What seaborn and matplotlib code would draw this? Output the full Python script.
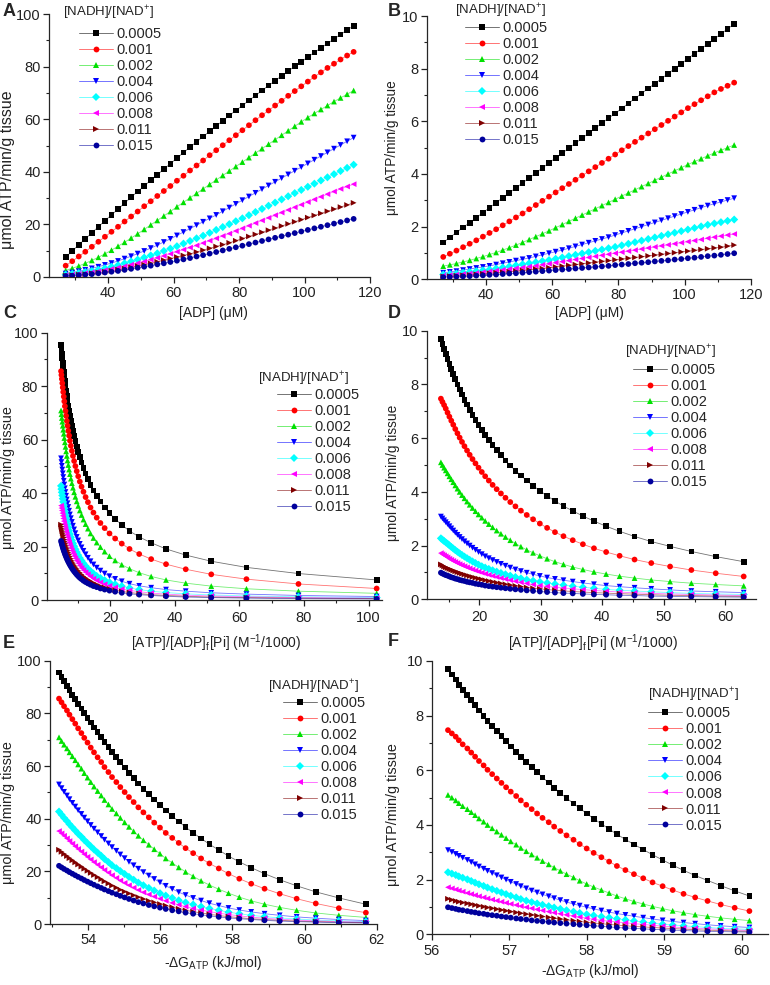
import pandas as pd
import matplotlib
matplotlib.use("Agg")
import matplotlib.pyplot as plt
from matplotlib.lines import Line2D
from matplotlib.colors import to_rgba
import seaborn as sns

# NADH/NAD+ ratios, one curve each
ratios = ["0.0005", "0.001", "0.002", "0.004", "0.006", "0.008", "0.011", "0.015"]
colors = ["#000000", "#ff0000", "#00e000", "#0000ff", "#00ffff", "#ff00ff", "#800000", "#00009c"]
marker_list = ["s", "o", "^", "v", "D", "<", ">", "o"]

# [ADP] (uM) for every point of every curve
adp = [27, 29, 31, 33, 35, 37, 39, 41, 43, 45, 47, 49, 51, 53, 55, 57, 59, 61, 63, 65, 67, 69, 71,
       73, 75, 77, 79, 81, 83, 85, 87, 89, 91, 93, 95, 97, 99, 101, 103, 105, 107, 109, 111, 113, 115]

# [ATP]/[ADP]f[Pi] (M-1/1000) at the same points, panel C and panel D
ratio_c = [102.5, 78.3, 62.2, 51.3, 43.4, 37.3, 32.7, 29.0, 26.0, 23.6, 21.55, 19.8, 18.3, 16.99, 15.84,
           14.83, 13.93, 13.12, 12.40, 11.74, 11.15, 10.61, 10.11, 9.66, 9.24, 8.85, 8.49, 8.16, 7.85,
           7.56, 7.30, 7.05, 6.81, 6.59, 6.37, 6.18, 5.99, 5.81, 5.65, 5.48, 5.33, 5.19, 5.05, 4.92, 4.80]
ratio_d = [63.0, 58.45, 54.49, 51.03, 47.97, 45.25, 42.82, 40.63, 38.65, 36.85, 35.20, 33.69, 32.31,
           31.03, 29.85, 28.75, 27.72, 26.77, 25.88, 25.04, 24.26, 23.52, 22.83, 22.17, 21.55, 20.96,
           20.41, 19.88, 19.38, 18.90, 18.44, 18.01, 17.59, 17.19, 16.81, 16.45, 16.10, 15.77, 15.45,
           15.14, 14.84, 14.55, 14.28, 14.01, 13.76]

# -dG_ATP (kJ/mol) at the same points, panel E and panel F
dg_e = [61.70, 60.95, 60.31, 59.78, 59.31, 58.89, 58.52, 58.19, 57.89, 57.62, 57.36, 57.13, 56.91,
        56.70, 56.51, 56.33, 56.15, 55.99, 55.83, 55.68, 55.53, 55.39, 55.26, 55.13, 55.01, 54.89,
        54.78, 54.66, 54.56, 54.45, 54.36, 54.26, 54.16, 54.07, 53.98, 53.89, 53.81, 53.72, 53.64,
        53.56, 53.48, 53.41, 53.33, 53.26, 53.19]
dg_f = [60.10, 59.91, 59.73, 59.56, 59.40, 59.25, 59.11, 58.98, 58.85, 58.73, 58.61, 58.50, 58.39,
        58.29, 58.19, 58.09, 58.00, 57.91, 57.83, 57.74, 57.66, 57.58, 57.51, 57.43, 57.36, 57.29,
        57.22, 57.15, 57.09, 57.02, 56.96, 56.90, 56.84, 56.78, 56.72, 56.67, 56.61, 56.56, 56.51,
        56.46, 56.40, 56.35, 56.31, 56.26, 56.21]

# rates (umol ATP/min/g tissue), left column (A, C, E)
a_r0005 = [7.5, 9.9, 12.2, 14.5, 16.8, 19.1, 21.4, 23.6, 25.8, 28.1, 30.3, 32.5, 34.6, 36.8, 38.9,
           41.0, 43.1, 45.2, 47.3, 49.4, 51.4, 53.4, 55.4, 57.4, 59.4, 61.4, 63.3, 65.2, 67.1, 69.0,
           70.9, 72.8, 74.6, 76.5, 78.3, 80.1, 81.8, 83.6, 85.4, 87.1, 88.8, 90.5, 92.2, 93.9, 95.5]
a_r001 = [4.3, 6.0, 7.8, 9.6, 11.5, 13.4, 15.3, 17.2, 19.1, 21.1, 23.0, 24.9, 26.9, 28.8, 30.8,
          32.7, 34.6, 36.6, 38.5, 40.5, 42.4, 44.3, 46.3, 48.2, 50.1, 52.0, 53.9, 55.8, 57.7, 59.6,
          61.5, 63.3, 65.2, 67.0, 68.9, 70.7, 72.5, 74.3, 76.1, 77.8, 79.5, 81.1, 82.7, 84.2, 85.6]
a_r002 = [2.5, 3.3, 4.2, 5.2, 6.3, 7.5, 8.8, 10.2, 11.7, 13.2, 14.8, 16.4, 18.1, 19.8, 21.5,
          23.2, 24.9, 26.7, 28.4, 30.1, 31.8, 33.5, 35.2, 36.9, 38.6, 40.3, 42.0, 43.7, 45.4, 47.1,
          48.8, 50.5, 52.2, 53.9, 55.6, 57.3, 59.0, 60.6, 62.2, 63.7, 65.2, 66.7, 68.1, 69.5, 70.9]
a_r004 = [1.3, 1.7, 2.2, 2.7, 3.3, 3.9, 4.6, 5.3, 6.1, 7.0, 7.9, 8.9, 9.9, 11.0, 12.1,
          13.3, 14.5, 15.8, 17.1, 18.4, 19.7, 21.0, 22.3, 23.6, 25.0, 26.4, 27.8, 29.2, 30.6, 32.0,
          33.4, 34.8, 36.2, 37.6, 39.0, 40.4, 41.8, 43.2, 44.6, 46.0, 47.4, 48.8, 50.2, 51.6, 53.0]
a_r006 = [0.9, 1.2, 1.5, 1.9, 2.3, 2.8, 3.3, 3.9, 4.5, 5.2, 5.9, 6.6, 7.4, 8.2, 9.0,
          9.9, 10.8, 11.7, 12.7, 13.7, 14.7, 15.7, 16.8, 17.9, 19.0, 20.1, 21.2, 22.3, 23.5, 24.7,
          25.9, 27.1, 28.3, 29.5, 30.7, 31.9, 33.1, 34.3, 35.5, 36.7, 37.9, 39.1, 40.3, 41.5, 42.7]
a_r008 = [0.7, 0.9, 1.2, 1.5, 1.8, 2.2, 2.6, 3.1, 3.6, 4.1, 4.7, 5.3, 5.9, 6.6, 7.3,
          8.0, 8.8, 9.6, 10.4, 11.2, 12.0, 12.9, 13.8, 14.7, 15.6, 16.5, 17.5, 18.5, 19.5, 20.5,
          21.5, 22.5, 23.5, 24.5, 25.5, 26.5, 27.5, 28.5, 29.5, 30.5, 31.5, 32.5, 33.5, 34.4, 35.3]
a_r011 = [0.5, 0.7, 0.9, 1.1, 1.4, 1.7, 2.0, 2.4, 2.8, 3.2, 3.7, 4.2, 4.7, 5.2, 5.8,
          6.4, 7.0, 7.6, 8.2, 8.8, 9.5, 10.2, 10.9, 11.6, 12.3, 13.0, 13.8, 14.6, 15.4, 16.2,
          17.0, 17.8, 18.6, 19.4, 20.2, 21.0, 21.8, 22.6, 23.4, 24.2, 25.0, 25.8, 26.6, 27.4, 28.2]
a_r015 = [0.4, 0.5, 0.7, 0.9, 1.1, 1.4, 1.7, 2.0, 2.3, 2.7, 3.1, 3.5, 3.9, 4.3, 4.8,
          5.2, 5.7, 6.2, 6.7, 7.2, 7.8, 8.3, 8.9, 9.5, 10.1, 10.7, 11.3, 11.9, 12.5, 13.1,
          13.7, 14.3, 14.9, 15.5, 16.1, 16.7, 17.3, 17.9, 18.5, 19.1, 19.7, 20.3, 20.9, 21.5, 22.1]

# rates, right column (B, D, F)
b_r0005 = [1.40, 1.59, 1.78, 1.97, 2.15, 2.34, 2.53, 2.72, 2.91, 3.10, 3.29, 3.47, 3.66, 3.85, 4.04,
           4.23, 4.42, 4.61, 4.79, 4.98, 5.17, 5.36, 5.55, 5.74, 5.93, 6.12, 6.30, 6.49, 6.68, 6.87,
           7.06, 7.25, 7.43, 7.62, 7.81, 8.00, 8.19, 8.38, 8.57, 8.75, 8.94, 9.13, 9.32, 9.51, 9.70]
b_r001 = [0.85, 0.97, 1.09, 1.22, 1.35, 1.48, 1.62, 1.76, 1.90, 2.05, 2.20, 2.35, 2.50, 2.66, 2.82,
          2.98, 3.14, 3.30, 3.46, 3.62, 3.78, 3.94, 4.10, 4.26, 4.42, 4.58, 4.74, 4.90, 5.06, 5.22,
          5.38, 5.54, 5.70, 5.86, 6.02, 6.18, 6.34, 6.50, 6.65, 6.80, 6.95, 7.10, 7.23, 7.35, 7.47]
b_r002 = [0.50, 0.55, 0.60, 0.66, 0.72, 0.79, 0.86, 0.94, 1.02, 1.11, 1.20, 1.30, 1.40, 1.51, 1.62,
          1.73, 1.84, 1.96, 2.08, 2.20, 2.32, 2.44, 2.56, 2.68, 2.80, 2.92, 3.04, 3.16, 3.28, 3.40,
          3.52, 3.64, 3.76, 3.88, 4.00, 4.12, 4.24, 4.36, 4.47, 4.58, 4.69, 4.80, 4.90, 5.00, 5.10]
b_r004 = [0.25, 0.28, 0.31, 0.35, 0.39, 0.43, 0.47, 0.51, 0.56, 0.61, 0.66, 0.71, 0.76, 0.81, 0.87,
          0.93, 0.99, 1.05, 1.11, 1.18, 1.25, 1.32, 1.39, 1.46, 1.53, 1.60, 1.68, 1.76, 1.84, 1.92,
          2.00, 2.08, 2.16, 2.24, 2.32, 2.40, 2.48, 2.56, 2.64, 2.72, 2.80, 2.87, 2.94, 3.01, 3.08]
b_r006 = [0.18, 0.20, 0.22, 0.25, 0.28, 0.31, 0.34, 0.37, 0.41, 0.45, 0.49, 0.53, 0.57, 0.61, 0.65,
          0.69, 0.73, 0.78, 0.83, 0.88, 0.93, 0.98, 1.03, 1.08, 1.13, 1.18, 1.23, 1.29, 1.35, 1.41,
          1.47, 1.53, 1.59, 1.65, 1.71, 1.77, 1.83, 1.89, 1.95, 2.01, 2.07, 2.12, 2.17, 2.22, 2.27]
b_r008 = [0.14, 0.16, 0.18, 0.20, 0.22, 0.24, 0.27, 0.30, 0.33, 0.36, 0.39, 0.42, 0.45, 0.48, 0.51,
          0.55, 0.59, 0.63, 0.67, 0.71, 0.75, 0.79, 0.83, 0.87, 0.91, 0.95, 0.99, 1.03, 1.07, 1.11,
          1.15, 1.19, 1.23, 1.27, 1.31, 1.35, 1.39, 1.43, 1.47, 1.51, 1.56, 1.60, 1.64, 1.68, 1.72]
b_r011 = [0.11, 0.12, 0.14, 0.15, 0.17, 0.19, 0.21, 0.23, 0.25, 0.27, 0.29, 0.31, 0.34, 0.36, 0.39,
          0.41, 0.44, 0.47, 0.50, 0.53, 0.56, 0.59, 0.62, 0.65, 0.68, 0.71, 0.74, 0.77, 0.80, 0.83,
          0.86, 0.89, 0.92, 0.95, 0.98, 1.01, 1.04, 1.07, 1.10, 1.13, 1.16, 1.19, 1.22, 1.26, 1.30]
b_r015 = [0.08, 0.09, 0.10, 0.11, 0.12, 0.14, 0.15, 0.17, 0.18, 0.20, 0.22, 0.23, 0.25, 0.27, 0.29,
          0.31, 0.33, 0.35, 0.37, 0.39, 0.41, 0.43, 0.45, 0.47, 0.49, 0.51, 0.54, 0.56, 0.58, 0.61,
          0.63, 0.65, 0.68, 0.70, 0.72, 0.75, 0.77, 0.80, 0.82, 0.85, 0.88, 0.90, 0.93, 0.96, 0.99]

rates_left = [a_r0005, a_r001, a_r002, a_r004, a_r006, a_r008, a_r011, a_r015]
rates_right = [b_r0005, b_r001, b_r002, b_r004, b_r006, b_r008, b_r011, b_r015]

W, H = 770, 985


def fx(px):
    return px / W


def fy(py):
    return 1 - py / H


def long_table(xs, series):
    frames = [pd.DataFrame({"x": xs, "y": ys, "ratio": r}) for r, ys in zip(ratios, series)]
    return pd.concat(frames, ignore_index=True)


sns.set_theme(style="ticks")
plt.rcParams["font.family"] = ["Liberation Sans", "DejaVu Sans"]
plt.rcParams["mathtext.fontset"] = "custom"
plt.rcParams["mathtext.rm"] = "Liberation Sans"
plt.rcParams["mathtext.it"] = "Liberation Sans:italic"
plt.rcParams["axes.linewidth"] = 0.9

lbl_adp = "[ADP] (\u03bcM)"
lbl_ratio = "[ATP]/[ADP]$_{\\mathrm{f}}$[Pi] (M$^{\\mathrm{-1}}$/1000)"
lbl_dg = "-\u0394G$_{\\mathrm{ATP}}$ (kJ/mol)"
lbl_y = "\u03bcmol ATP/min/g tissue"
leg_title = "[NADH]/[NAD$^{+}$]"

# box = left, top, right, bottom in pixels
panels = [
    dict(letter="A", xs=adp, ys=rates_left, box=(49.3, 14, 370, 277), xlim=(22, 120), ylim=(0, 100),
         xt=[40, 60, 80, 100, 120], xm=[30, 50, 70, 90, 110], xlabel=lbl_adp, xl=(213.5, 313),
         yl=(8, 169.5, 11.5), leg=(79, 34), title=(63, 16), let=(3, 12), pad=2.5),
    dict(letter="B", xs=adp, ys=rates_right, box=(426.7, 16, 750.7, 279.3), xlim=(22, 120), ylim=(0, 10),
         xt=[40, 60, 80, 100, 120], xm=[30, 50, 70, 90, 110], xlabel=lbl_adp, xl=(589.5, 313),
         yl=(392, 148, 9.8), leg=(465, 28), title=(455, 14), let=(388, 11), pad=2.5),
    dict(letter="C", xs=ratio_c, ys=rates_left, box=(46.5, 332.7, 381.5, 600), xlim=(0.3, 104), ylim=(0, 100),
         xt=[20, 40, 60, 80, 100], xm=[10, 30, 50, 70, 90], xlabel=lbl_ratio, xl=(216, 643),
         yl=(8, 477.5, 10.4), leg=(277, 395), title=(258, 382.7), let=(3, 313), pad=4),
    dict(letter="D", xs=ratio_d, ys=rates_right, box=(427, 330.7, 756, 599.3), xlim=(11.5, 65), ylim=(0, 10),
         xt=[20, 30, 40, 50, 60], xm=[15, 25, 35, 45, 55], xlabel=lbl_ratio, xl=(592.7, 642.7),
         yl=(393, 473, 9.9), leg=(633, 370), title=(625, 355), let=(388, 313), pad=4),
    dict(letter="E", xs=dg_e, ys=rates_left, box=(50, 660.7, 376.7, 924), xlim=(52.94, 62), ylim=(0, 100),
         xt=[54, 56, 58, 60, 62], xm=[53, 55, 57, 59, 61], xlabel=lbl_dg, xl=(213, 963),
         yl=(8, 812.5, 10.4), leg=(283, 702.7), title=(268, 690), let=(3, 644), pad=2.5),
    dict(letter="F", xs=dg_f, ys=rates_right, box=(431.7, 661, 768, 934.3), xlim=(56, 60.34), ylim=(0, 10),
         xt=[56, 57, 58, 59, 60], xm=[56.5, 57.5, 58.5, 59.5], xlabel=lbl_dg, xl=(590, 971),
         yl=(393, 815, 10.4), leg=(648, 713.3), title=(648, 698.3), let=(388, 642), pad=3),
]

fig = plt.figure(figsize=(W / 100, H / 100), dpi=100)

marker_map = dict(zip(ratios, marker_list))
handles = [Line2D([], [], color=to_rgba(c, 0.55), lw=0.7, marker=m, ms=4.2, mfc=c, mec=c, mew=0)
           for c, m in zip(colors, marker_list)]

for p in panels:
    l, t, r, b = p["box"]
    ax = fig.add_axes([fx(l), fy(b), (r - l) / W, (b - t) / H])
    df = long_table(p["xs"], p["ys"])

    # thin connecting lines, then the markers on top
    sns.lineplot(data=df, x="x", y="y", hue="ratio", hue_order=ratios, palette=colors,
                 sort=False, estimator=None, lw=0.6, alpha=0.55, legend=False, ax=ax, zorder=2)
    sns.scatterplot(data=df, x="x", y="y", hue="ratio", hue_order=ratios, palette=colors,
                    style="ratio", style_order=ratios, markers=marker_map, s=17, linewidth=0,
                    legend=False, ax=ax, zorder=3)

    ax.set_xlim(*p["xlim"])
    ax.set_ylim(*p["ylim"])
    ax.set_xticks(p["xt"])
    ax.set_xticks(p["xm"], minor=True)
    ymax = p["ylim"][1]
    ax.set_yticks([ymax * k / 5 for k in range(6)])
    ax.set_yticks([ymax * (2 * k + 1) / 10 for k in range(5)], minor=True)
    if ymax == 100:
        ax.set_yticklabels(["0", "20", "40", "60", "80", "100"])
    else:
        ax.set_yticklabels(["0", "2", "4", "6", "8", "10"])
    ax.set_xticklabels([f"{v:g}" for v in p["xt"]])
    ax.tick_params(which="major", direction="out", length=4, width=0.9, labelsize=10.5, pad=2,
                   colors="#222222")
    ax.tick_params(axis="x", which="major", pad=p["pad"])
    ax.tick_params(which="minor", direction="out", length=2.2, width=0.8, colors="#222222")
    sns.despine(ax=ax)

    ax.set_xlabel(p["xlabel"], fontsize=10, va="center", color="#222222")
    ax.xaxis.set_label_coords(fx(p["xl"][0]), fy(p["xl"][1]), transform=fig.transFigure)
    ax.set_ylabel(lbl_y, fontsize=p["yl"][2], va="center", color="#222222")
    ax.yaxis.set_label_coords(fx(p["yl"][0]), fy(p["yl"][1]), transform=fig.transFigure)

    hx, hy = p["leg"]
    ax.legend(handles, ratios, loc="upper left", bbox_to_anchor=(fx(hx), fy(hy - 7)),
              bbox_transform=fig.transFigure, frameon=False, borderpad=0, borderaxespad=0,
              handlelength=2.3, handletextpad=0.25, labelspacing=0.14, numpoints=1,
              prop={"family": ["Liberation Sans", "DejaVu Sans"], "size": 10.5})
    fig.text(fx(p["title"][0]), fy(p["title"][1]), leg_title, fontsize=9.5, va="baseline",
             ha="left", color="#222222")
    fig.text(fx(p["let"][0]), fy(p["let"][1]), p["letter"], fontsize=13, fontweight="bold",
             va="center", ha="left")

fig.savefig("out.png", dpi=100)
